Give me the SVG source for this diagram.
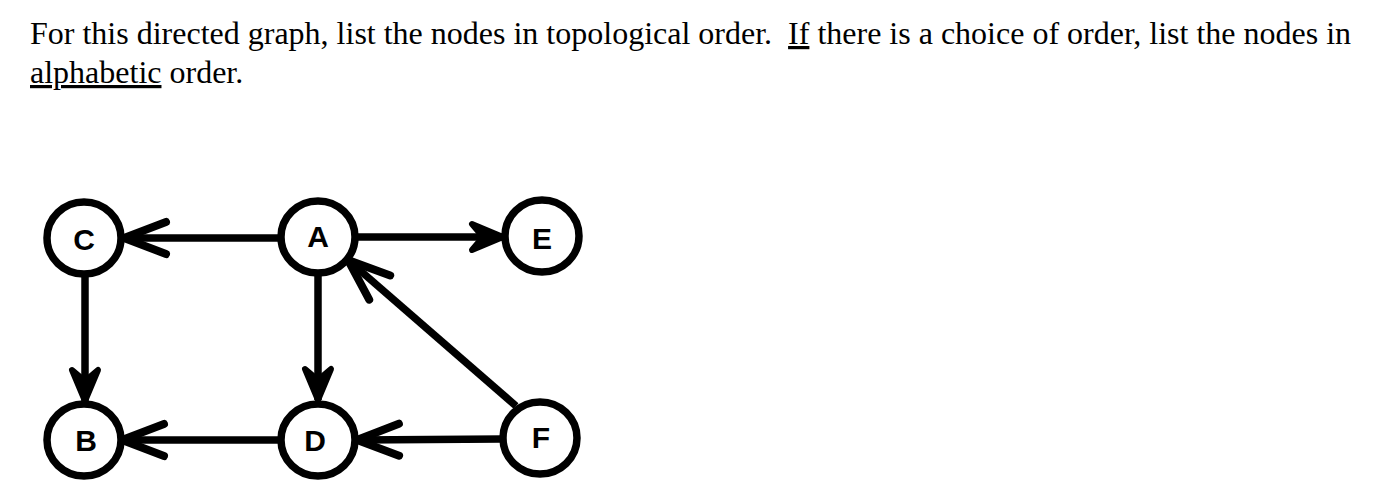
<svg xmlns="http://www.w3.org/2000/svg" width="1400" height="500" viewBox="0 0 1400 500">
<style>
.q{font-family:"Liberation Serif","Times New Roman",serif;font-size:32px;fill:#000}
.u{text-decoration:underline}
.node{fill:#fff;stroke:#000;stroke-width:7.5}
.lbl{font-family:"Liberation Sans",Arial,sans-serif;font-weight:bold;font-size:30px;fill:#000;text-anchor:middle;dominant-baseline:central}
.edge{stroke:#000;stroke-width:7.5;fill:none}
</style>
<defs>
<marker id="open" markerUnits="userSpaceOnUse" markerWidth="70" markerHeight="60" viewBox="-55 -30 70 60" refX="0" refY="0" orient="auto" overflow="visible">
<path d="M-42,-16 L0,0 L-42,16" fill="none" stroke="#000" stroke-width="8" stroke-linecap="round" stroke-linejoin="miter"/>
</marker>
<marker id="dart" markerUnits="userSpaceOnUse" markerWidth="70" markerHeight="60" viewBox="-55 -30 70 60" refX="0" refY="0" orient="auto" overflow="visible">
<path d="M-31,-13 L0,0 L-31,13 L-20,0 Z" fill="#000" stroke="#000" stroke-width="6" stroke-linecap="round" stroke-linejoin="round"/>
</marker>
</defs>
<text class="q" x="30" y="44" xml:space="preserve">For this directed graph, list the nodes in topological order.  <tspan class="u">If</tspan> there is a choice of order, list the nodes in</text>
<text class="q" x="30" y="83"><tspan class="u">alphabetic</tspan> order.</text>
<g id="edges">
<line class="edge" x1="280" y1="238" x2="124" y2="238" marker-end="url(#open)"/>
<line class="edge" x1="355" y1="237" x2="503" y2="237" marker-end="url(#dart)"/>
<line class="edge" x1="318" y1="275" x2="318" y2="400" marker-end="url(#dart)"/>
<line class="edge" x1="85" y1="276" x2="85" y2="401" marker-end="url(#dart)"/>
<line class="edge" x1="280" y1="440" x2="122" y2="440" marker-end="url(#open)"/>
<line class="edge" x1="502" y1="439" x2="357" y2="440" marker-end="url(#open)"/>
<line class="edge" x1="516" y1="406" x2="348" y2="260" marker-end="url(#open)"/>
</g>
<g id="node-C"><ellipse class="node" cx="84" cy="238" rx="37" ry="36"/><text class="lbl" x="84" y="239">C</text></g>
<g id="node-A"><ellipse class="node" cx="318" cy="237" rx="37" ry="36"/><text class="lbl" x="318" y="236">A</text></g>
<g id="node-E"><ellipse class="node" cx="542" cy="236" rx="37" ry="36"/><text class="lbl" x="542" y="238">E</text></g>
<g id="node-B"><ellipse class="node" cx="84" cy="440" rx="37" ry="36"/><text class="lbl" x="86" y="440">B</text></g>
<g id="node-D"><ellipse class="node" cx="318" cy="440" rx="37" ry="36"/><text class="lbl" x="315" y="440">D</text></g>
<g id="node-F"><ellipse class="node" cx="540" cy="438" rx="37" ry="36"/><text class="lbl" x="541" y="437">F</text></g>
</svg>
